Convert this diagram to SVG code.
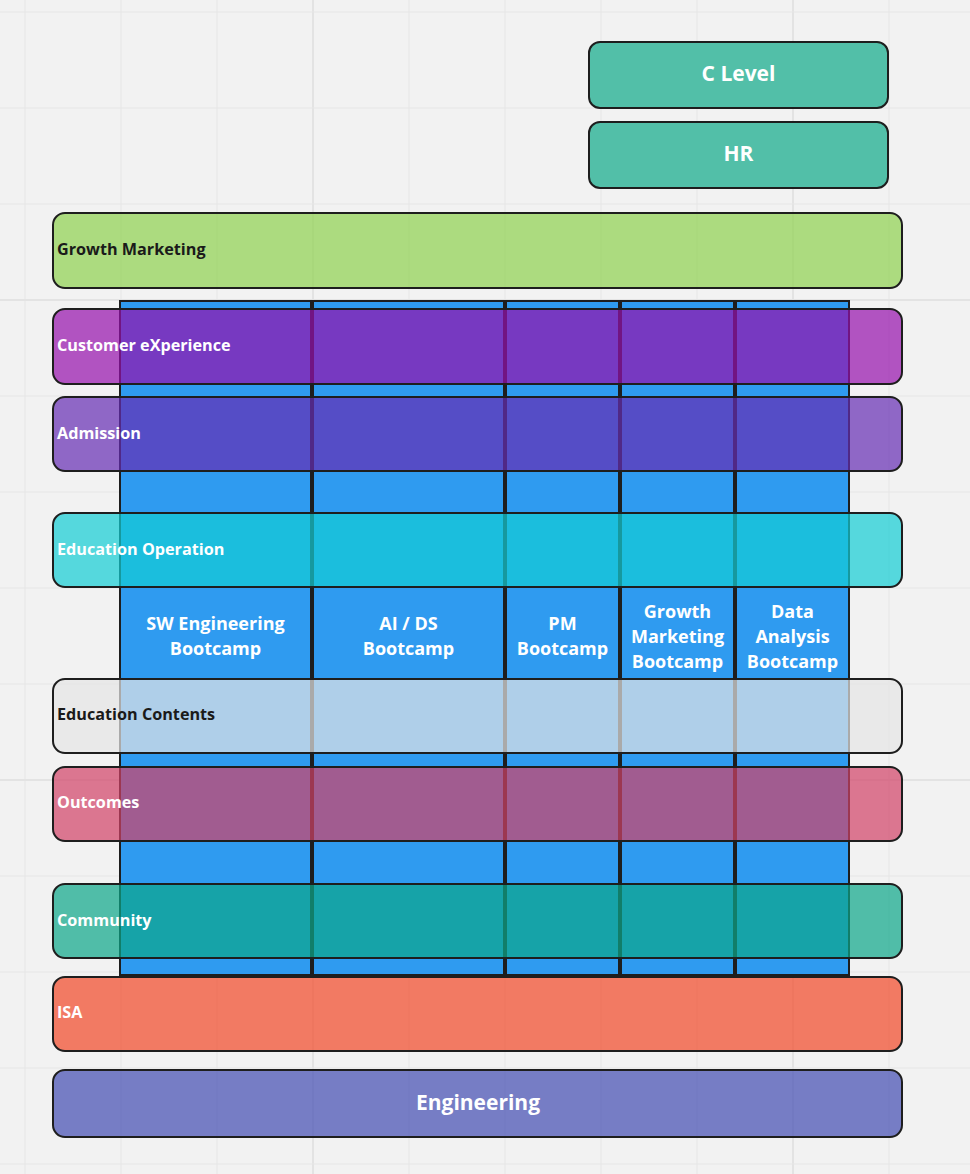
<svg xmlns="http://www.w3.org/2000/svg" width="970" height="1174" viewBox="0 0 970 1174">
<style>
.grid{stroke:#e6e6e6;stroke-width:1}
.major{stroke:#e3e3e3;stroke-width:2}
.box{stroke:#1e1e1e;stroke-width:2}
.row{stroke:#1e1e1e;stroke-width:2;fill-opacity:0.7}
.col{fill:#2f9bf0;stroke:#1e1e1e;stroke-width:2}
.lbl{font-family:"Open Sans","Noto Sans","Liberation Sans",sans-serif;font-weight:700;font-size:16.2px;fill:#ffffff}
.dark{fill:#1a1a1a}
.ctr{font-family:"Open Sans","Noto Sans","Liberation Sans",sans-serif;font-weight:700;font-size:18px;fill:#ffffff;text-anchor:middle}
.big{font-size:21px}
.eng{font-size:21px}
</style>
<rect x="0" y="0" width="970" height="1174" fill="#f2f2f2"/>
<g id="grid">
<line class="grid" x1="25" y1="0" x2="25" y2="1174"/>
<line class="grid" x1="121" y1="0" x2="121" y2="1174"/>
<line class="grid" x1="217" y1="0" x2="217" y2="1174"/>
<line class="major" x1="313" y1="0" x2="313" y2="1174"/>
<line class="grid" x1="409" y1="0" x2="409" y2="1174"/>
<line class="grid" x1="505" y1="0" x2="505" y2="1174"/>
<line class="grid" x1="601" y1="0" x2="601" y2="1174"/>
<line class="grid" x1="697" y1="0" x2="697" y2="1174"/>
<line class="major" x1="793" y1="0" x2="793" y2="1174"/>
<line class="grid" x1="889" y1="0" x2="889" y2="1174"/>
<line class="grid" x1="0" y1="12" x2="970" y2="12"/>
<line class="grid" x1="0" y1="108" x2="970" y2="108"/>
<line class="grid" x1="0" y1="204" x2="970" y2="204"/>
<line class="major" x1="0" y1="300" x2="970" y2="300"/>
<line class="grid" x1="0" y1="396" x2="970" y2="396"/>
<line class="grid" x1="0" y1="492" x2="970" y2="492"/>
<line class="grid" x1="0" y1="588" x2="970" y2="588"/>
<line class="grid" x1="0" y1="684" x2="970" y2="684"/>
<line class="major" x1="0" y1="780" x2="970" y2="780"/>
<line class="grid" x1="0" y1="876" x2="970" y2="876"/>
<line class="grid" x1="0" y1="972" x2="970" y2="972"/>
<line class="grid" x1="0" y1="1068" x2="970" y2="1068"/>
<line class="grid" x1="0" y1="1164" x2="970" y2="1164"/>
</g>
<g id="c-level">
<rect class="box" x="589" y="42" width="299" height="66" rx="11" fill="#52bfa8"/>
<text class="ctr big" x="738.5" y="80.5">C Level</text>
</g>
<g id="hr">
<rect class="box" x="589" y="122" width="299" height="66" rx="11" fill="#52bfa8"/>
<text class="ctr big" x="738.5" y="160.5">HR</text>
</g>
<g id="growth-marketing">
<rect class="row" x="53" y="213" width="849" height="75" rx="12" fill="#8fd14f"/>
<text class="lbl dark" x="57" y="255">Growth Marketing</text>
</g>
<g id="col-sw">
<rect class="col" x="120" y="301" width="191" height="674"/>
<text class="ctr" x="215.5" y="630">SW Engineering</text>
<text class="ctr" x="215.5" y="655">Bootcamp</text>
</g>
<g id="col-aids">
<rect class="col" x="313" y="301" width="191" height="674"/>
<text class="ctr" x="408.5" y="630">AI / DS</text>
<text class="ctr" x="408.5" y="655">Bootcamp</text>
</g>
<g id="col-pm">
<rect class="col" x="506" y="301" width="113" height="674"/>
<text class="ctr" x="562.5" y="630">PM</text>
<text class="ctr" x="562.5" y="655">Bootcamp</text>
</g>
<g id="col-gm">
<rect class="col" x="621" y="301" width="113" height="674"/>
<text class="ctr" x="677.5" y="618">Growth</text>
<text class="ctr" x="677.5" y="643">Marketing</text>
<text class="ctr" x="677.5" y="668">Bootcamp</text>
</g>
<g id="col-da">
<rect class="col" x="736" y="301" width="113" height="674"/>
<text class="ctr" x="792.5" y="618">Data</text>
<text class="ctr" x="792.5" y="643">Analysis</text>
<text class="ctr" x="792.5" y="668">Bootcamp</text>
</g>
<g id="customer-experience">
<rect class="row" x="53" y="309" width="849" height="75" rx="12" fill="#9510ac"/>
<text class="lbl" x="57" y="351">Customer eXperience</text>
</g>
<g id="admission">
<rect class="row" x="53" y="397" width="849" height="74" rx="12" fill="#652cb3"/>
<text class="lbl" x="57" y="439">Admission</text>
</g>
<g id="education-operation">
<rect class="row" x="53" y="513" width="849" height="74" rx="12" fill="#12cdd4"/>
<text class="lbl" x="57" y="555">Education Operation</text>
</g>
<g id="education-contents">
<rect class="row" x="53" y="679" width="849" height="74" rx="12" fill="#e6e6e6"/>
<text class="lbl dark" x="57" y="720">Education Contents</text>
</g>
<g id="outcomes">
<rect class="row" x="53" y="767" width="849" height="74" rx="12" fill="#d24266"/>
<text class="lbl" x="57" y="808">Outcomes</text>
</g>
<g id="community">
<rect class="row" x="53" y="884" width="849" height="74" rx="12" fill="#0ca789"/>
<text class="lbl" x="57" y="926">Community</text>
</g>
<g id="isa">
<rect class="row" x="53" y="977" width="849" height="74" rx="12" fill="#f24726"/>
<text class="lbl" x="57" y="1018">ISA</text>
</g>
<g id="engineering">
<rect class="row" x="53" y="1070" width="849" height="67" rx="12" fill="#414bb2"/>
<text class="ctr eng" x="478" y="1109.5">Engineering</text>
</g>
<g id="connectors"/>
</svg>
